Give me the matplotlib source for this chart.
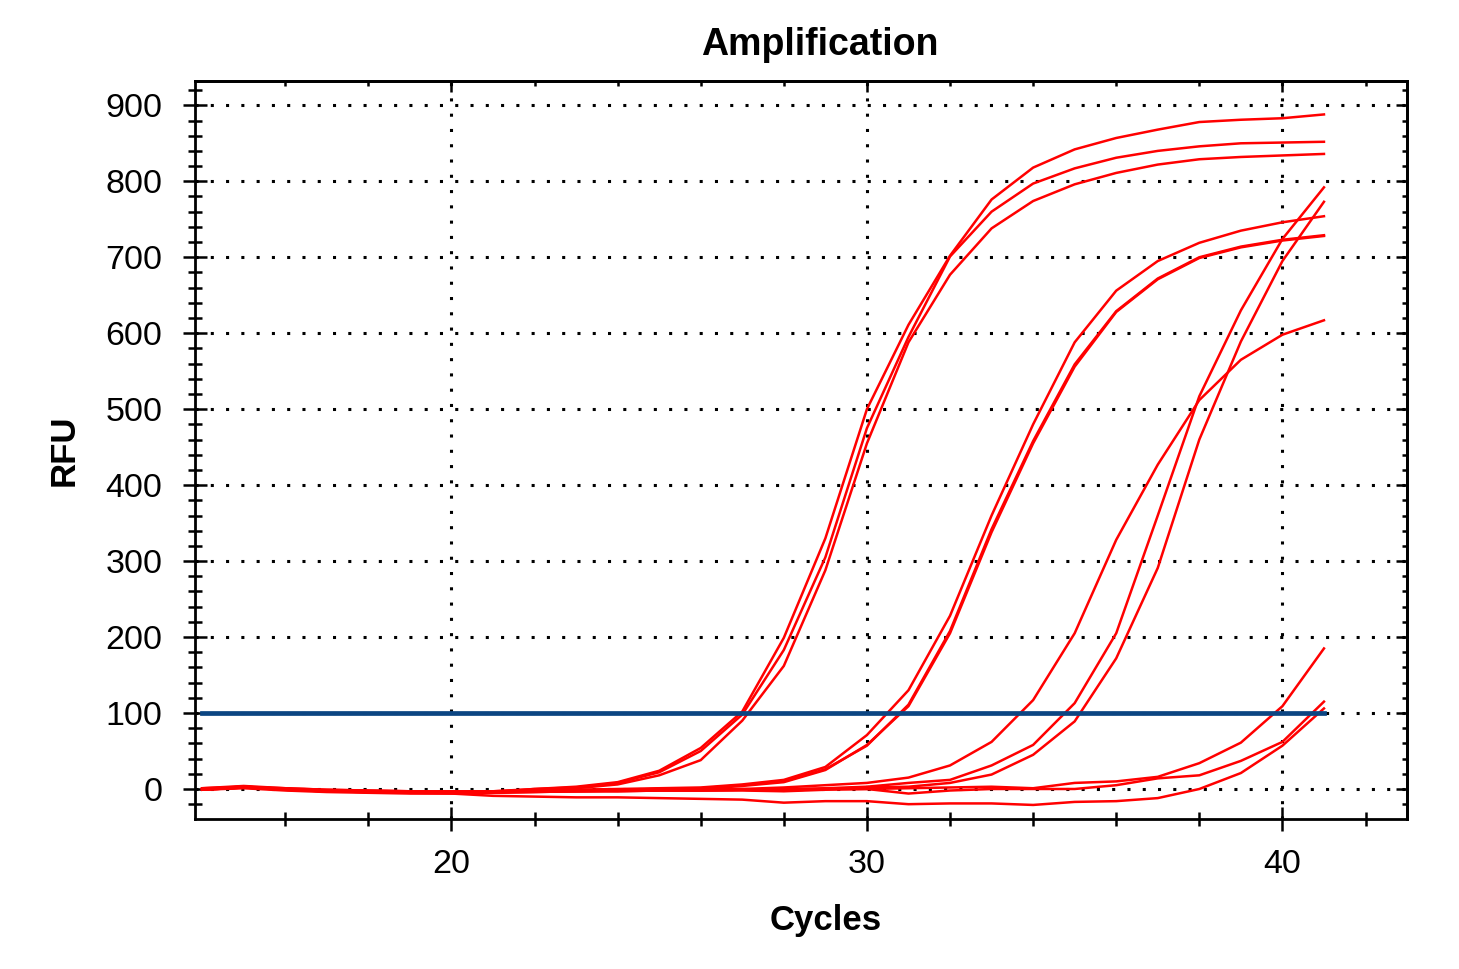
import numpy as np
import matplotlib
matplotlib.use("Agg")
import matplotlib.pyplot as plt
from matplotlib.ticker import MultipleLocator, FixedLocator

plt.rcParams['font.family'] = ['Liberation Sans', 'DejaVu Sans']

cycles = np.arange(14, 42)
threshold = 100

# RFU readings per well, cycles 14..41
a1 = [0, 3, 0, -2, -3, -3, -4, -4, 0, 3, 9, 24, 54, 102, 199, 330, 500, 611, 702, 776, 818, 842, 857, 868, 878, 881, 883, 888]
a2 = [1, 4, 1, -1, -2, -3, -3, -3, 0, 2, 8, 22, 50, 98, 183, 305, 475, 595, 701, 760, 797, 817, 831, 840, 846, 850, 851, 852]
a3 = [-1, 2, -1, -3, -4, -4, -5, -5, -2, 1, 6, 18, 38, 90, 162, 288, 455, 588, 677, 738, 774, 796, 811, 822, 829, 832, 834, 836]
b1 = [0, 2, 0, -2, -3, -4, -4, -3, -2, -1, 0, 1, 2, 6, 12, 29, 71, 130, 228, 360, 480, 588, 656, 695, 719, 735, 746, 754]
b2 = [-1, 2, -1, -3, -4, -5, -5, -4, -3, -2, -1, 0, 1, 5, 10, 26, 57, 111, 208, 342, 458, 559, 629, 672, 700, 714, 723, 729]
b3 = [0, 3, 0, -2, -3, -4, -5, -4, -3, -2, -1, -1, 0, 4, 9, 25, 58, 109, 205, 338, 455, 556, 628, 671, 699, 713, 722, 728]
c1 = [0, 2, 0, -2, -4, -5, -5, -5, -4, -3, -2, -1, -1, 0, 2, 5, 8, 15, 31, 62, 117, 205, 328, 427, 512, 565, 598, 617]
c2 = [-1, 2, -1, -3, -4, -5, -6, -5, -4, -3, -3, -2, -2, -1, 0, 1, 3, 8, 12, 31, 58, 113, 205, 360, 517, 630, 724, 792]
c3 = [0, 3, 0, -2, -3, -4, -4, -4, -3, -3, -2, -2, -2, -1, -2, 0, 2, 3, 8, 19, 45, 89, 172, 291, 460, 589, 695, 773]
d1 = [1, 3, 1, -1, -2, -3, -3, -3, -2, -1, -1, 0, 0, 0, -2, 0, 0, 1, 2, 3, 1, 8, 10, 16, 34, 61, 109, 185]
d2 = [0, 2, 0, -2, -3, -4, -4, -4, -3, -3, -3, -2, -2, -2, -3, -1, 0, -6, -2, 0, 0, 0, 5, 14, 18, 37, 62, 115]
d3 = [-1, 1, -2, -4, -5, -6, -6, -9, -10, -11, -11, -12, -13, -14, -18, -16, -16, -20, -19, -19, -21, -17, -16, -12, 0, 21, 57, 106]
wells = [a1, a2, a3, b1, b2, b3, c1, c2, c3, d1, d2, d3]

fig = plt.figure(figsize=(14.59, 9.69), dpi=100)
ax = fig.add_axes([0.1337, 0.1548, 0.8307, 0.7616])

for w in wells:
    ax.plot(cycles, w, color='#ff0000', lw=1.8, zorder=3)
ax.plot([cycles[0], cycles[-1]], [threshold, threshold], color='#0b4582', lw=3.4, zorder=4)

ax.set_xlim(13.83, 43.0)
ax.set_ylim(-39.5, 932)

ax.xaxis.set_major_locator(MultipleLocator(10))
ax.xaxis.set_minor_locator(FixedLocator(np.arange(16, 43, 2)))
ax.yaxis.set_major_locator(MultipleLocator(100))
ax.yaxis.set_minor_locator(MultipleLocator(20))

ax.grid(True, which='major', color='black', lw=2.2, linestyle=(0, (1, 4)),
        dash_capstyle='butt', zorder=1)

ax.tick_params(which='major', direction='inout', length=17, width=1.8,
               labelsize=24.5, top=False, right=False)
ax.tick_params(which='minor', direction='inout', length=9.4, width=1.8,
               top=False, right=False)
ax.tick_params(axis='y', which='major', pad=15)
ax.tick_params(axis='x', which='major', pad=13)

for s in ax.spines.values():
    s.set_linewidth(2)

# top and right edges carry inward ticks only
top = ax.secondary_xaxis('top')
top.xaxis.set_major_locator(MultipleLocator(10))
top.xaxis.set_minor_locator(FixedLocator(np.arange(16, 43, 2)))
top.tick_params(which='major', direction='in', length=8, width=1.8, labeltop=False)
top.tick_params(which='minor', direction='in', length=3.8, width=1.8)
top.spines['top'].set_linewidth(2)

right = ax.secondary_yaxis('right')
right.yaxis.set_major_locator(MultipleLocator(100))
right.yaxis.set_minor_locator(MultipleLocator(20))
right.tick_params(which='major', direction='in', length=8, width=1.8, labelright=False)
right.tick_params(which='minor', direction='in', length=3.8, width=1.8)
right.spines['right'].set_linewidth(2)

fig.text(0.562, 0.9432, 'Amplification', fontsize=27, fontweight='bold',
         ha='center', va='baseline')
fig.text(0.566, 0.0402, 'Cycles', fontsize=25, fontweight='bold',
         ha='center', va='baseline')
fig.text(0.0507, 0.5356, 'RFU', fontsize=25, fontweight='bold', rotation=90,
         rotation_mode='anchor', ha='center', va='baseline')

fig.savefig('out.png', dpi=100)
